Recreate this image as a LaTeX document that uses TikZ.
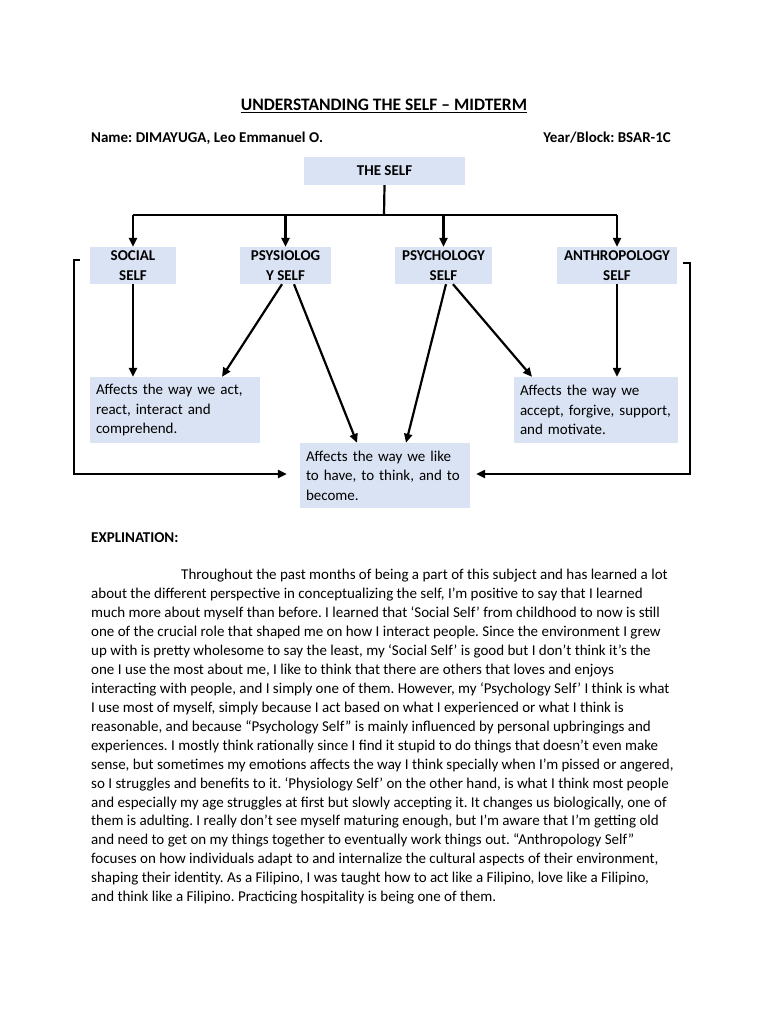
\documentclass[tikz,border=0pt]{standalone}
\usepackage{fontspec}
\setmainfont{Carlito}
\usetikzlibrary{arrows.meta,calc}
\definecolor{boxblue}{RGB}{218,227,243}
\newcommand{\docsize}{\fontsize{15pt}{19.5pt}\selectfont\frenchspacing}
\tikzset{
    selfbox/.style={fill=boxblue, inner sep=0pt, align=center, font=\docsize\bfseries},
    notebox/.style={fill=boxblue, inner xsep=6pt, inner ysep=0pt, align=left, font=\docsize},
    link/.style={line width=2.2pt},
    arr/.style={link, -{Triangle[length=9pt,width=8pt]}},
}

\begin{document}
\begin{tikzpicture}[x=1pt,y=-1pt]
            \useasboundingbox [fill=white] (0,0) rectangle (768,1024);

            %% en-tete
            \node [font=\fontsize{17.5pt}{20pt}\selectfont\bfseries] (title) at (384,106) {\underline{UNDERSTANDING THE SELF – MIDTERM}};
            \node [font=\docsize\bfseries, anchor=base west, inner sep=0pt] (name) at (91,143) {Name: DIMAYUGA, Leo Emmanuel O.};
            \node [font=\docsize\bfseries, anchor=base east, inner sep=0pt] (block) at (671,143) {Year/Block: BSAR-1C};

            %% les cases
            \node [selfbox, minimum width=161, minimum height=28] (self) at (384.5,171) {THE SELF};
            \node [selfbox, minimum width=86, minimum height=37] (social) at (133,265.5) {SOCIAL\\SELF};
            \node [selfbox, minimum width=91, minimum height=37] (psys) at (285.5,265.5) {PSYSIOLOG\\Y SELF};
            \node [selfbox, minimum width=97, minimum height=37] (psych) at (443.5,265.5) {PSYCHOLOGY\\SELF};
            \node [selfbox, minimum width=120, minimum height=37] (anthro) at (617,265.5) {ANTHROPOLOGY\\SELF};

            \node [notebox, text width=158, minimum height=66] (act) at (175,410) {Affects the way we act,\\react, interact and\\comprehend.};
            \node [notebox, text width=152, minimum height=66] (accept) at (596,410) {Affects the way we\\accept, forgive, support,\\and motivate.};
            \node [notebox, text width=158, minimum height=65] (become) at (385,475.5) {Affects the way we like\\to have, to think, and to\\become.};

            %% fleches
            \coordinate (bar) at (384,215);
            \draw [link] (self.south) -- (bar);
            \draw [link] (social.north |- bar) -- (anthro.north |- bar);
            \foreach \n in {social,psys,psych,anthro}
                \draw [arr] (\n.north |- bar) -- (\n.north);

            \draw [arr] (social.south) -- (social.south |- act.north);
            \draw [arr] ([xshift=-3.5pt]psys.south) -- ([xshift=47pt]act.north);
            \draw [arr] ([xshift=8.5pt]psys.south) -- ([xshift=-28pt]become.north);
            \draw [arr] ([xshift=2.5pt]psych.south) -- ([xshift=21pt]become.north);
            \draw [arr] ([xshift=9.5pt]psych.south) -- ([xshift=-64pt]accept.north);
            \draw [arr] (anthro.south) -- (anthro.south |- accept.north);

            \coordinate (lefttop) at (80,260);
            \coordinate (righttop) at (683,263);
            \draw [arr] (lefttop) -- ++(-6,0) |- ([xshift=-13pt,yshift=1.5pt]become.west);
            \draw [arr] (righttop) -- ++(7,0) |- ([xshift=6pt,yshift=1.5pt]become.east);

            %% explication
            \node [font=\docsize\bfseries, anchor=base west, inner sep=0pt] (expl) at (91,542) {EXPLINATION:};
            \node [font=\fontsize{15pt}{18.95pt}\selectfont\frenchspacing, anchor=north west, inner sep=0pt, align=left] (text) at (91,569) {\hspace*{90pt}Throughout the past months of being a part of this subject and has learned a lot\\
about the different perspective in conceptualizing the self, I’m positive to say that I learned\\
much more about myself than before. I learned that ‘Social Self’ from childhood to now is still\\
one of the crucial role that shaped me on how I interact people. Since the environment I grew\\
up with is pretty wholesome to say the least, my ‘Social Self’ is good but I don’t think it’s the\\
one I use the most about me, I like to think that there are others that loves and enjoys\\
interacting with people, and I simply one of them. However, my ‘Psychology Self’ I think is what\\
I use most of myself, simply because I act based on what I experienced or what I think is\\
reasonable, and because “Psychology Self” is mainly influenced by personal upbringings and\\
experiences. I mostly think rationally since I find it stupid to do things that doesn’t even make\\
sense, but sometimes my emotions affects the way I think specially when I’m pissed or angered,\\
so I struggles and benefits to it. ‘Physiology Self’ on the other hand, is what I think most people\\
and especially my age struggles at first but slowly accepting it. It changes us biologically, one of\\
them is adulting. I really don’t see myself maturing enough, but I’m aware that I’m getting old\\
and need to get on my things together to eventually work things out. “Anthropology Self”\\
focuses on how individuals adapt to and internalize the cultural aspects of their environment,\\
shaping their identity. As a Filipino, I was taught how to act like a Filipino, love like a Filipino,\\
and think like a Filipino. Practicing hospitality is being one of them.};
\end{tikzpicture}
\end{document}
